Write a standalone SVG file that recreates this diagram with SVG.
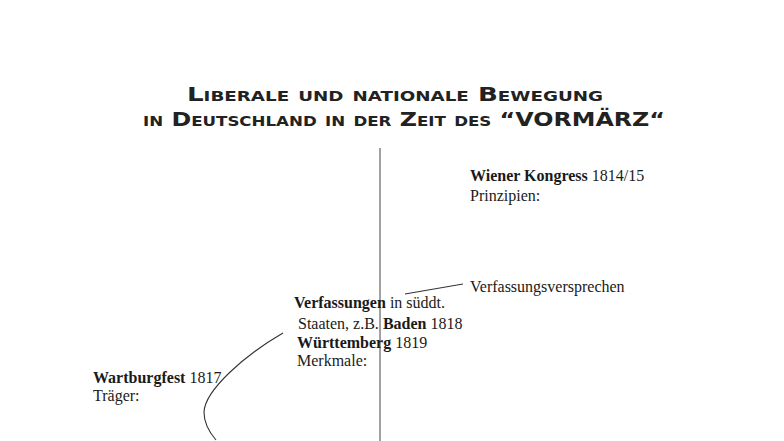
<svg xmlns="http://www.w3.org/2000/svg" width="784" height="441" viewBox="0 0 784 441">
<style>
.title{font-family:"DejaVu Sans",sans-serif;font-weight:bold;font-variant:small-caps;font-size:20px;fill:#222}
.t{font-family:"Liberation Serif",serif;font-size:16px;fill:#1a1a1a}
.b{font-weight:bold}
.ln{fill:none;stroke:#333;stroke-width:1.1}
</style>
<rect width="784" height="441" fill="#fff"/>
<g id="title">
<text class="title" x="187" y="101" textLength="416" lengthAdjust="spacingAndGlyphs">Liberale und nationale Bewegung</text>
<text class="title" x="143" y="126" textLength="522" lengthAdjust="spacingAndGlyphs">in Deutschland in der Zeit des “VORMÄRZ“</text>
</g>
<g id="connectors">
<line x1="380" y1="148" x2="380" y2="441" stroke="#8a8a8a" stroke-width="1.6"/>
<line class="ln" x1="405" y1="294" x2="463" y2="284"/>
<path class="ln" d="M283,333 C245,355 205,390 204,412 C204,424 209,432 216,440"/>
</g>
<g id="wiener">
<text class="t" x="470" y="181"><tspan class="b">Wiener Kongress</tspan> 1814/15</text>
<text class="t" x="470" y="201">Prinzipien:</text>
</g>
<g id="versprechen">
<text class="t" x="470" y="292">Verfassungsversprechen</text>
</g>
<g id="verfassungen">
<text class="t" x="294" y="308"><tspan class="b">Verfassungen</tspan> in süddt.</text>
<text class="t" x="298" y="329">Staaten, z.B. <tspan class="b">Baden</tspan> 1818</text>
<text class="t" x="297" y="348"><tspan class="b">Württemberg</tspan> 1819</text>
<text class="t" x="297" y="366">Merkmale:</text>
</g>
<g id="wartburg">
<text class="t" x="93" y="383"><tspan class="b">Wartburgfest</tspan> 1817</text>
<text class="t" x="93" y="401">Träger:</text>
</g>
</svg>
